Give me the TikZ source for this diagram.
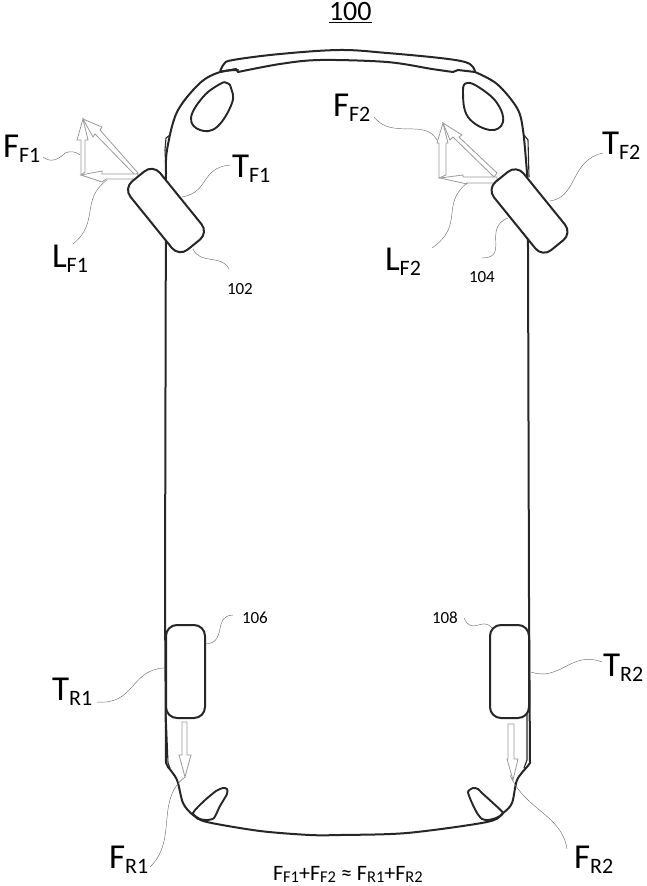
\documentclass[tikz,border=0pt]{standalone}
\usepackage{fontspec}
\setmainfont{Carlito}
\definecolor{ink}{HTML}{262626}
\definecolor{lead}{HTML}{707070}
\definecolor{arrowgrey}{HTML}{9A9A9A}
\newcommand{\biglbl}[2]{{\fontsize{35}{35}\selectfont #1}{\fontsize{22}{22}\selectfont\raisebox{-5pt}{#2}}}
\newcommand{\smallsub}[2]{{\fontsize{22}{22}\selectfont #1}{\fontsize{16.5}{16.5}\selectfont\raisebox{-2.5pt}{#2}}}
\tikzset{
  body/.style={draw=ink,line width=2pt,line join=round,line cap=round},
  win/.style={draw=ink,line width=1.9pt},
  wheel/.style={draw=ink,line width=2pt,rounded corners=11pt,minimum width=#1,inner sep=0pt,fill=white},
  leader/.style={draw=lead,line width=0.45pt},
  hollow/.style={draw=arrowgrey,line width=0.8pt,line join=miter,fill=white},
  lbl/.style={anchor=base west,inner sep=0pt,outer sep=0pt,text=black},
  num/.style={lbl,font=\fontsize{17}{17}\selectfont},
}
\begin{document}
\begin{tikzpicture}[x=1pt,y=-1pt]
\useasboundingbox (0,0) rectangle (647,886);
% body: outer shell
\draw[body] plot[smooth,tension=0.55] coordinates {(166,173) (167,150) (177,112) (200,83) (220,72) (238,70)};
\draw[body] plot[smooth,tension=0.55] coordinates {(238,72) (280,64) (320,60) (387,62) (432,69) (453,72)};
\draw[body] (453,72) -- (458,70) -- (475,72);
\draw[body] (220,72) -- (236,69) -- (238,72);
\draw[body] plot[smooth,tension=0.6] coordinates {(220,72) (224,64) (233,60) (280,54) (340,50) (387,53) (440,58) (465,62) (473,67) (475,72)};
\draw[body] plot[smooth,tension=0.55] coordinates {(475,72) (497,84) (517,108) (523,130) (527,173)};
\draw[body] (166,173) -- (165,600) -- (166,763) -- (168,767);
\draw[body] plot[smooth,tension=0.5] coordinates {(168,767) (177,780) (183,803) (193,815) (207,822) (260,831) (310,835) (340,835) (407,833) (487,822) (503,813) (512,803) (517,780) (527,767)};
\draw[body] (527,767) -- (530,763) -- (529,600) -- (528,247) -- (527,173);
% rear skirts and front fenders
\draw[body,line width=1.1pt] (166,713) -- (168,763) -- (170,768);
\draw[body,line width=1.1pt] (527,712) -- (527,760) -- (524,768);
\draw[body,line width=1.1pt] (166,173) -- (165,150) -- (166,138) -- (170,135);
\draw[body,line width=1.1pt] (524,135) -- (528,140) -- (529,177);
% windows
\draw[win] plot[smooth cycle,tension=0.7] coordinates {(227,83) (220,84) (203,97) (191,118) (200,130) (217,127) (232,103) (231,88)};
\draw[win] plot[smooth cycle,tension=0.7] coordinates {(467,83) (463,92) (468,117) (490,130) (503,122) (497,103) (480,88)};
\draw[win] plot[smooth cycle,tension=0.4] coordinates {(223,788) (216,791) (204,801) (193,813) (200,819) (207,820) (214,818) (220,806) (227,794) (227,789)};
\draw[win] plot[smooth cycle,tension=0.4] coordinates {(473,788) (468,792) (472,803) (477,813) (482,819) (488,820) (496,818) (503,813) (493,803) (482,793) (478,789)};
% hollow force arrows: left front
\draw[hollow] (81,175) -- (81,140) -- (77,140) -- (83,119) -- (88,140) -- (85,140) -- (85,172) -- cycle;
\draw[hollow] (83,119) -- (102,127) -- (100,130) -- (138,173) -- (135,175) -- (95,134) -- (93,137) -- cycle;
\draw[hollow] (81,175) -- (102,171) -- (102,174) -- (138,174) -- (138,179) -- (106,179) -- (102,182) -- cycle;
% hollow force arrows: right front
\draw[hollow] (439,178) -- (439,143) -- (437,143) -- (443,123) -- (448,143) -- (446,143) -- (446,175) -- cycle;
\draw[hollow] (443,123) -- (462,135) -- (459,137) -- (497,173) -- (494,177) -- (453,137) -- (450,140) -- cycle;
\draw[hollow] (440,178) -- (463,175) -- (463,177) -- (497,177) -- (497,183) -- (467,183) -- (467,184) -- cycle;
% hollow force arrows: rear
\draw[hollow] (182,722) -- (187,722) -- (187,755) -- (191,755) -- (185,777) -- (179,755) -- (182,755) -- cycle;
\draw[hollow] (508,724) -- (514,724) -- (514,759) -- (518,759) -- (513,780) -- (507,759) -- (508,759) -- cycle;
% wheels
\node[wheel=88pt,minimum height=38pt,rotate=-51] (wFL) at (166,210.5) {};
\node[wheel=88pt,minimum height=38pt,rotate=-51] (wFR) at (529.5,211) {};
\node[wheel=39pt,minimum height=93pt] (wRL) at (185.5,671.5) {};
\node[wheel=39pt,minimum height=93pt] (wRR) at (509.5,671.5) {};
% labels
\node[lbl,font=\fontsize{28}{28}\selectfont] (n100) at (329,20.5) {\underline{100}};
\node[lbl] (FF1) at (3,157) {\biglbl{F}{F1}};
\node[lbl] (TF1) at (232,177) {\biglbl{T}{F1}};
\node[lbl] (LF1) at (52,267) {\biglbl{L}{F1}};
\node[num] (n102) at (227,294) {102};
\node[lbl] (FF2) at (333,116) {\biglbl{F}{F2}};
\node[lbl] (TF2) at (602,154) {\biglbl{T}{F2}};
\node[lbl] (LF2) at (385,270) {\biglbl{L}{F2}};
\node[num] (n104) at (469,282) {104};
\node[num] (n106) at (242,623) {106};
\node[num] (n108) at (432,623) {108};
\node[lbl] (TR1) at (52,700) {\biglbl{T}{R1}};
\node[lbl] (TR2) at (603,676) {\biglbl{T}{R2}};
\node[lbl] (FR1) at (109,868) {\biglbl{F}{R1}};
\node[lbl] (FR2) at (574,868) {\biglbl{F}{R2}};
\node[lbl] (eqn) at (273,880) {\smallsub{F}{F1}\smallsub{+F}{F2}\fontsize{22}{22}\selectfont{ ≈ }\smallsub{F}{R1}\smallsub{+F}{R2}};
% leaders
\coordinate (eFF1) at (80,155); \coordinate (sFF1) at (43,157);
\draw[leader] (sFF1) .. controls (52,164) and (60,158) .. (65,153) .. controls (70,151) and (75,151) .. (eFF1);
\coordinate (eTF1) at (182,197); \coordinate (sTF1) at (230,165);
\draw[leader] (sTF1) .. controls (200,168) and (210,192) .. (eTF1);
\coordinate (eLF1) at (107,180); \coordinate (sLF1) at (73,244);
\draw[leader] (sLF1) .. controls (100,222) and (80,200) .. (eLF1);
\coordinate (e102) at (193,249); \coordinate (s102) at (229,269);
\draw[leader] (s102) .. controls (222,254) and (200,265) .. (e102);
\coordinate (eFF2) at (437,140); \coordinate (sFF2) at (374,117);
\draw[leader] (sFF2) .. controls (392,140) and (425,118) .. (eFF2);
\coordinate (eTF2) at (550,201); \coordinate (sTF2) at (603,153);
\draw[leader] (sTF2) .. controls (570,160) and (578,197) .. (eTF2);
\coordinate (eLF2) at (467,183); \coordinate (sLF2) at (432,248);
\draw[leader] (sLF2) .. controls (465,225) and (440,205) .. (eLF2);
\coordinate (e104) at (508,218); \coordinate (s104) at (482,258);
\draw[leader] (s104) .. controls (510,258) and (482,228) .. (e104);
\coordinate (e106) at (206,644); \coordinate (s106) at (233,615);
\draw[leader] (s106) .. controls (212,616) and (228,642) .. (e106);
\coordinate (e108) at (492,628); \coordinate (s108) at (464,618);
\draw[leader] (s108) .. controls (472,636) and (482,616) .. (e108);
\coordinate (eTR1) at (164,668); \coordinate (sTR1) at (97,702);
\draw[leader] (sTR1) .. controls (135,705) and (130,670) .. (eTR1);
\coordinate (eTR2) at (531,672); \coordinate (sTR2) at (602,662);
\draw[leader] (sTR2) .. controls (572,650) and (560,682) .. (eTR2);
\coordinate (eFR1) at (185,777); \coordinate (sFR1) at (150,867);
\draw[leader] (sFR1) .. controls (178,840) and (155,800) .. (eFR1);
\coordinate (eFR2) at (510,775); \coordinate (sFR2) at (567,849);
\draw[leader] (sFR2) .. controls (562,815) and (525,810) .. (eFR2);
\end{tikzpicture}
\end{document}
